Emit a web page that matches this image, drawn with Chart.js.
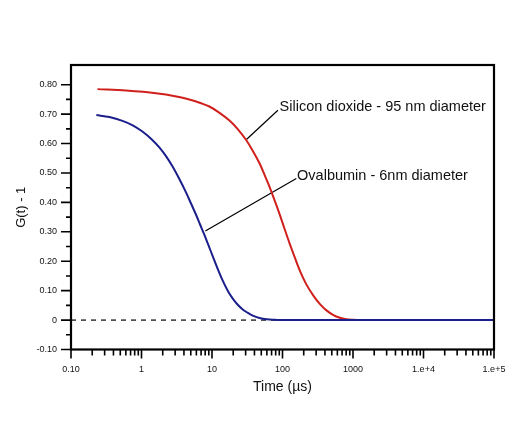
<!DOCTYPE html>
<html><head><meta charset="utf-8">
<script src="https://cdn.jsdelivr.net/npm/chart.js@4"></script>
<style>html,body{margin:0;padding:0;background:#fff}#wrap{width:509px;height:436px}</style>
</head><body><div id="wrap"><canvas id="c" width="509" height="436"></canvas></div>
<script>
const FONT = "'Liberation Sans', Arial, Helvetica, sans-serif";

const xTickValues = [0.1, 1, 10, 100, 1000, 10000, 100000];
const xTickLabels = ['0.10', '1', '10', '100', '1000', '1.e+4', '1.e+5'];
const yTickValues = [-0.1, 0, 0.1, 0.2, 0.3, 0.4, 0.5, 0.6, 0.7, 0.8];
const yTickLabels = ['-0.10', '0', '0.10', '0.20', '0.30', '0.40', '0.50', '0.60', '0.70', '0.80'];

const ovalTimes  = [0.229, 0.35, 0.537, 0.75, 1.03, 1.4, 1.79, 2.2, 2.76, 3.4, 4.28, 5.0, 5.94, 6.8, 7.73, 8.9, 10.2, 12, 14.2, 16.8, 19.7, 23, 27.3, 32, 37.9, 47.2, 60, 80, 100, 1000, 10000, 100000];
const ovalValues = [0.697, 0.690, 0.677, 0.662, 0.641, 0.614, 0.587, 0.559, 0.522, 0.482, 0.434, 0.398, 0.358, 0.324, 0.292, 0.255, 0.218, 0.175, 0.134, 0.099, 0.073, 0.053, 0.036, 0.025, 0.015, 0.007, 0.0025, 0.0008, 0, 0, 0, 0];

const silicaTimes  = [0.237, 0.6, 1.6, 3.0, 4.77, 7.0, 9.18, 12.5, 17.7, 23, 30.5, 38, 47.2, 56, 65.5, 78, 90.9, 108, 126, 150, 175, 215, 271, 340, 420, 520, 649, 800, 1000, 1300, 10000, 100000];
const silicaValues = [0.785, 0.780, 0.771, 0.761, 0.750, 0.737, 0.726, 0.706, 0.678, 0.650, 0.612, 0.575, 0.533, 0.492, 0.453, 0.404, 0.360, 0.307, 0.261, 0.212, 0.170, 0.124, 0.085, 0.054, 0.033, 0.018, 0.008, 0.003, 0.001, 0, 0, 0];

const zeroLineTimes  = [0.1, 110];
const zeroLineValues = [0, 0];

const silicaLabel = 'Silicon dioxide - 95 nm diameter';
const silicaLeaderTimes  = [86.1, 30.8];
const silicaLeaderValues = [0.713, 0.614];
const silicaLabelAt = [91, 0.712];

const ovalLabel = 'Ovalbumin - 6nm diameter';
const ovalLeaderTimes  = [157, 8.05];
const ovalLeaderValues = [0.481, 0.303];
const ovalLabelAt = [161, 0.476];

const pts = (xs, ys) => xs.map((x, i) => ({x: x, y: ys[i]}));

const framePlugin = {
  id: 'frame',
  afterDatasetsDraw(chart) {
    const {ctx, chartArea: a, scales: {x, y}} = chart;
    ctx.save();
    ctx.strokeStyle = '#000';
    ctx.lineWidth = 1.6;
    ctx.beginPath();
    for (let d = 0.1; d <= 100000 * 1.001; d *= 10) {
      const px = x.getPixelForValue(d);
      ctx.moveTo(px, a.bottom); ctx.lineTo(px, a.bottom + 9);
      for (let k = 2; k <= 9; k++) {
        const v = k * d;
        if (v > 100000 * 1.001) break;
        const mx = x.getPixelForValue(v);
        ctx.moveTo(mx, a.bottom); ctx.lineTo(mx, a.bottom + 6);
      }
    }
    yTickValues.forEach((v, i) => {
      const py = y.getPixelForValue(v);
      ctx.moveTo(a.left, py); ctx.lineTo(a.left - 10, py);
      if (i < yTickValues.length - 1) {
        const my = y.getPixelForValue(v + 0.05);
        ctx.moveTo(a.left, my); ctx.lineTo(a.left - 5, my);
      }
    });
    ctx.stroke();
    ctx.lineWidth = 2.2;
    ctx.strokeRect(a.left, a.top, a.right - a.left, a.bottom - a.top);
    ctx.fillStyle = '#111';
    ctx.font = '14.5px ' + FONT;
    ctx.textBaseline = 'alphabetic';
    ctx.textAlign = 'left';
    ctx.fillText(silicaLabel, x.getPixelForValue(silicaLabelAt[0]), y.getPixelForValue(silicaLabelAt[1]));
    ctx.fillText(ovalLabel, x.getPixelForValue(ovalLabelAt[0]), y.getPixelForValue(ovalLabelAt[1]));
    ctx.restore();
  }
};

new Chart(document.getElementById('c'), {
  type: 'line',
  data: {
    datasets: [
      {label: 'Ovalbumin', data: pts(ovalTimes, ovalValues), borderColor: '#1b1f8c', borderWidth: 2, cubicInterpolationMode: 'monotone', order: 0},
      {label: 'Silicon dioxide', data: pts(silicaTimes, silicaValues), borderColor: '#d0201c', borderWidth: 2, cubicInterpolationMode: 'monotone', order: 1},
      {label: 'silica leader', data: pts(silicaLeaderTimes, silicaLeaderValues), borderColor: '#000', borderWidth: 1.2, order: 2},
      {label: 'oval leader', data: pts(ovalLeaderTimes, ovalLeaderValues), borderColor: '#000', borderWidth: 1.2, order: 2},
      {label: 'zero', data: pts(zeroLineTimes, zeroLineValues), borderColor: '#000', borderWidth: 1.2, borderDash: [5, 5], order: 3}
    ]
  },
  options: {
    responsive: false,
    animation: false,
    devicePixelRatio: 1,
    layout: {padding: {left: 0, right: 15, top: 65, bottom: 36.5}},
    plugins: {legend: {display: false}, tooltip: {enabled: false}},
    elements: {point: {radius: 0}},
    scales: {
      x: {
        type: 'logarithmic', min: 0.1, max: 100000,
        afterBuildTicks: s => { s.ticks = xTickValues.map(v => ({value: v})); },
        afterFit: s => { s.height = 50; s.paddingLeft = 0; s.paddingRight = 0; },
        grid: {display: false, drawTicks: false},
        border: {display: false},
        ticks: {autoSkip: false, maxRotation: 0, padding: 15, color: '#111',
          font: {family: FONT, size: 9},
          callback: (v, i) => xTickLabels[i]},
        title: {display: true, text: 'Time (µs)', color: '#111',
          font: {family: FONT, size: 14}, padding: {top: 0, bottom: 4}}
      },
      y: {
        type: 'linear', min: -0.1, max: 0.867,
        afterBuildTicks: s => { s.ticks = yTickValues.map(v => ({value: v})); },
        afterFit: s => { s.width = 71; s.paddingTop = 0; s.paddingBottom = 0; },
        grid: {display: false, drawTicks: false},
        border: {display: false},
        ticks: {autoSkip: false, padding: 14, color: '#111',
          font: {family: FONT, size: 9},
          callback: (v, i) => yTickLabels[i]},
        title: {display: true, text: 'G(t) - 1', color: '#111',
          font: {family: FONT, size: 13}, padding: {top: 14, bottom: 0}}
      }
    }
  },
  plugins: [framePlugin]
});
</script></body></html>
